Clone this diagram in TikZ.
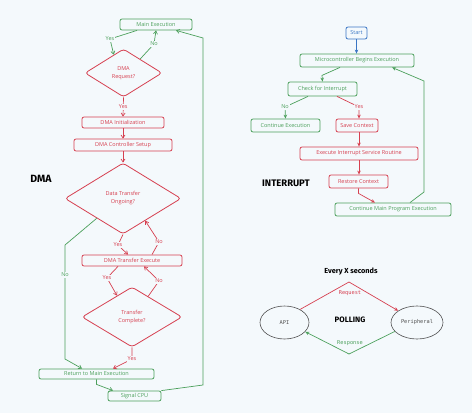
\documentclass[tikz,border=0pt]{standalone}
\usepackage{fontspec}
\setmainfont{Open Sans}
\setmonofont{DejaVu Sans Mono}
\newfontfamily\titlefont{Fira Sans}
\usepackage{tikz}
\usetikzlibrary{shapes.geometric,arrows.meta,positioning}
\definecolor{bgblue}{RGB}{244,249,252}
\definecolor{flowgreen}{RGB}{76,160,92}
\definecolor{flowred}{RGB}{214,64,80}
\definecolor{flowblue}{RGB}{58,118,196}
\definecolor{ringgray}{RGB}{80,80,80}
\begin{document}
\begin{tikzpicture}[x=1pt,y=-1pt,
    every node/.style={font=\fontsize{5.5}{6}\selectfont, inner sep=0pt},
    gbox/.style={draw=flowgreen, text=flowgreen, fill=bgblue, rounded corners=2pt, line width=0.8pt},
    rbox/.style={draw=flowred, text=flowred, fill=bgblue, rounded corners=2pt, line width=0.8pt},
    bbox/.style={draw=flowblue, text=flowblue, fill=bgblue, rounded corners=2pt, line width=0.8pt},
    rdiam/.style={diamond, draw=flowred, text=flowred, align=center, rounded corners=3pt, line width=0.8pt},
    ring/.style={ellipse, draw=ringgray, text=ringgray, line width=0.6pt, font=\ttfamily\fontsize{5.3}{6}\selectfont},
    glbl/.style={fill=bgblue, inner sep=1pt, text=flowgreen},
    rlbl/.style={fill=bgblue, inner sep=1pt, text=flowred},
    title/.style={font=\titlefont\bfseries\fontsize{#1}{#1}\selectfont, text=black},
    garrow/.style={draw=flowgreen, line width=0.7pt, -{Straight Barb[length=3pt,width=4pt]}},
    rarrow/.style={draw=flowred, line width=0.7pt, -{Straight Barb[length=3pt,width=4pt]}},
    gtip/.style={draw=flowgreen, line width=0.7pt, -{Stealth[length=4pt,width=3.5pt]}},
    rtip/.style={draw=flowred, line width=0.7pt, -{Stealth[length=4pt,width=3.5pt]}},
    btip/.style={draw=flowblue, line width=0.7pt, -{Stealth[length=4pt,width=3.5pt]}}
  ]
  \fill[white] (0,0) rectangle (474,414);
  \fill[bgblue] (0,0) rectangle (472,413);
  \useasboundingbox (0,0) rectangle (474,414);

  % DMA
  \node[title=10.5] (dmatitle) at (41,179) {DMA};
  \node[gbox, minimum width=72pt, minimum height=11pt] (mainex) at (156,24.5) {Main Execution};
  \node[rdiam, minimum width=77pt, minimum height=48pt] (dmareq) at (123.5,73) {DMA\\[2pt]Request?};
  \node[rbox, minimum width=82pt, minimum height=11pt] (dmainit) at (123,122.5) {DMA Initialization};
  \node[rbox, minimum width=98pt, minimum height=12pt] (dmasetup) at (123,145) {DMA Controller Setup};
  \node[rdiam, minimum width=116pt, minimum height=71pt] (ongoing) at (123,198.5) {Data Transfer\\[2pt]Ongoing?};
  \node[rbox, minimum width=100pt, minimum height=11pt] (xfer) at (132,260.5) {DMA Transfer Execute};
  \node[rdiam, minimum width=100pt, minimum height=60pt] (complete) at (132,317) {Transfer\\[2pt]Complete?};
  \node[gbox, minimum width=115pt, minimum height=10pt] (retmain) at (96.5,374) {Return to Main Execution};
  \node[gbox, minimum width=53pt, minimum height=10pt] (sigcpu) at (134.5,396) {Signal CPU};

  \draw[garrow] ([xshift=-19pt]mainex.south) -- (110,39) node[glbl]{Yes} -- (dmareq.118);
  \draw[garrow] (dmareq.40) -- (154,44) node[glbl]{No} -- (mainex.south);
  \draw[rarrow] (dmareq.south) -- node[rlbl]{Yes} (dmainit.north);
  \draw[rarrow] (dmainit) -- (dmasetup);
  \draw[rarrow] (dmasetup) -- (ongoing.north);
  \draw[rarrow] (ongoing.south) -- (118,245) node[rlbl]{Yes} -- ([xshift=-4pt]xfer.north);
  \draw[rarrow] ([xshift=20pt]xfer.north) -- (159,242) node[rlbl]{No} -- (ongoing.-45);
  \draw[rarrow] ([xshift=-14pt]xfer.south) -- (107,278) node[rlbl]{Yes} -- (complete.125);
  \draw[rarrow] (complete.52) -- (159,281) node[rlbl]{No} -- ([xshift=12pt]xfer.south);
  \draw[rarrow] (complete.south) -- (132,359) node[rlbl]{Yes} -- ([xshift=16.5pt]retmain.north);
  \draw[garrow] (ongoing.217) -- (65,245) -- node[glbl, pos=0.26]{No} (65,359) -- ([xshift=-14.5pt]retmain.north);
  \draw[garrow] (retmain.south) -- ++(0,5) -- ([xshift=-21.5pt]sigcpu.north);
  \draw[garrow] (sigcpu.north east) -- (203,385) -- (203,38) -- ([xshift=20pt]mainex.south);

  % INTERRUPT
  \node[title=9.5] (inttitle) at (286,183) {INTERRUPT};
  \node[bbox, minimum width=21pt, minimum height=12pt] (start) at (356.5,33) {Start};
  \node[gbox, minimum width=114pt, minimum height=13pt] (micro) at (357,60.5) {Microcontroller Begins Execution};
  \node[gbox, minimum width=69pt, minimum height=14pt] (check) at (322.5,89) {Check for Interrupt};
  \node[gbox, minimum width=69pt, minimum height=13pt] (contex) at (285.5,125.5) {Continue Execution};
  \node[rbox, minimum width=42pt, minimum height=13pt] (save) at (357,125.5) {Save Context};
  \node[rbox, minimum width=118pt, minimum height=13pt] (isr) at (359,153.5) {Execute Interrupt Service Routine};
  \node[rbox, minimum width=59pt, minimum height=13pt] (restore) at (358.5,181.5) {Restore Context};
  \node[gbox, minimum width=116pt, minimum height=13pt] (contmain) at (393,209.5) {Continue Main Program Execution};

  \draw[btip] (start.south) -- (start.south |- micro.north);
  \draw[gtip] ([xshift=-17pt]micro.south) -- ++(-18,8) -- (check.north);
  \draw[gtip] ([xshift=-14.5pt]check.south) -- (285,107) node[glbl]{No} -- (contex.north);
  \draw[rtip] ([xshift=14.5pt]check.south) -- (359,107) node[rlbl]{Yes} -- ([xshift=2pt]save.north);
  \draw[rtip] ([xshift=2pt]save.south) -- ([xshift=2pt]save.south |- isr.north);
  \draw[rtip] (isr.south) -- (isr.south |- restore.north);
  \draw[rtip] (restore.south) -- ++(0,5) -- ([xshift=-18pt]contmain.north);
  \draw[gtip] ([xshift=17pt]contmain.north) -- (424,192) -- (424,81) -- ([xshift=35pt]micro.south);

  % POLLING
  \node[title=7.3] (every) at (351,272) {Every X seconds};
  \node[title=7.8] (polltitle) at (350,320) {POLLING};
  \node[ring, minimum width=49pt, minimum height=33pt] (api) at (284.5,322.5) {API};
  \node[ring, minimum width=52pt, minimum height=33pt] (periph) at (417,322.5) {Peripheral};
  \coordinate (reqtop) at (349,282);
  \coordinate (resbot) at (349,354);
  \draw[rtip] (api.40) -- (reqtop) -- (periph.148);
  \draw[gtip] (periph.202) -- (resbot) -- (api.336);
  \node[text=flowred, font=\ttfamily\fontsize{5.3}{6}\selectfont] (reqlbl) at (350,293) {Request};
  \node[text=flowgreen, font=\ttfamily\fontsize{5.3}{6}\selectfont] (reslbl) at (350,343) {Response};
\end{tikzpicture}
\end{document}
